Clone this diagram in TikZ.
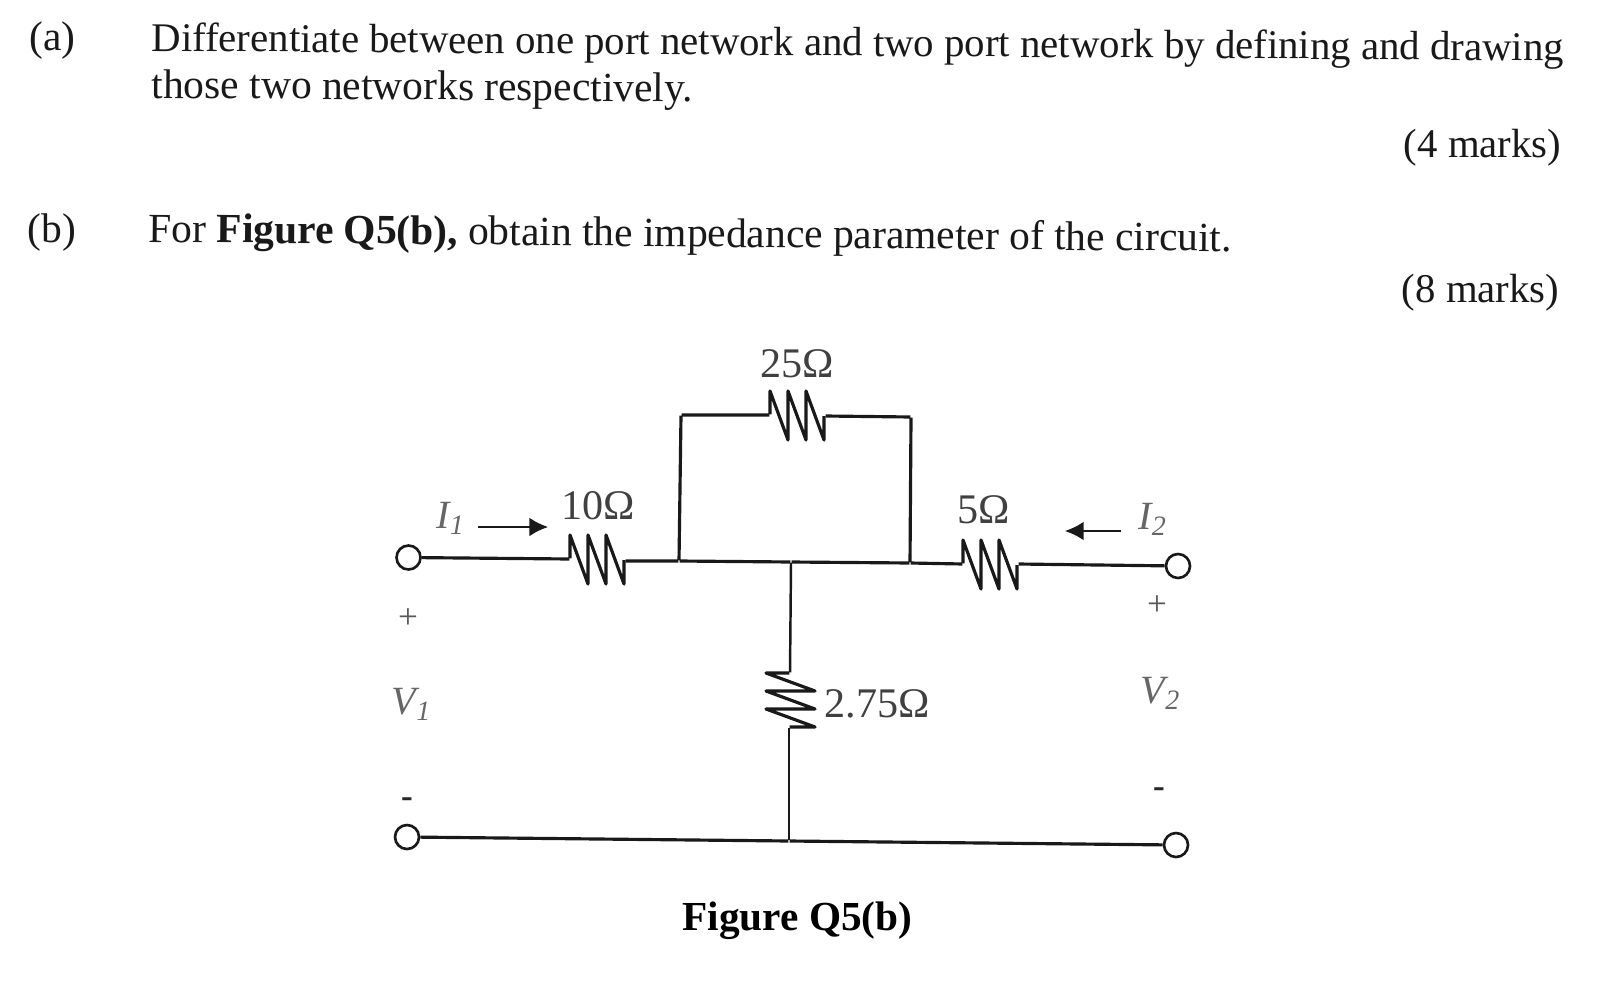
\documentclass[tikz,border=0pt]{standalone}
\usepackage{fontspec}
\setmainfont{Liberation Serif}
\usetikzlibrary{arrows.meta}
\tikzset{
  wire/.style={line width=0.9pt,black!90,line join=round},
  thin wire/.style={line width=0.7pt,black!90},
  term/.style={circle,draw,line width=0.75pt,black!90,fill=white,minimum size=0.24cm,inner sep=0pt},
  joint/.style={inner sep=0pt,minimum size=0pt},
  body/.style={anchor=base west,inner sep=0pt,font=\fontsize{11.8}{14}\selectfont,text=black!90},
  val/.style={inner sep=0pt,font=\fontsize{12}{14}\selectfont,text=black!75},
  sym/.style={inner sep=0pt,font=\fontsize{11.4}{13}\selectfont\itshape,text=black!60},
  sign/.style={inner sep=0pt,font=\fontsize{10}{12}\selectfont,text=black!65},
  zigh/.style={insert path={-- ++(0,.24) -- ++(.18,-.49) -- ++(0,.49) -- ++(.18,-.49) -- ++(0,.49) -- ++(.18,-.49) -- ++(0,.24)}},
  curarrow/.style={line width=0.8pt,black!90,-{Latex[length=0.19cm,width=0.19cm]}}
}
\begin{document}
\begin{tikzpicture}
\useasboundingbox (0,0) rectangle (16,9.98);
% question text
\draw (0.29,9.47) node[body] (qa) {(a)};
\draw (1.51,9.47) node[body,rotate=-0.4,font=\fontsize{11.6}{14}\selectfont] (la) {Differentiate between one port network and two port network by defining and drawing};
\draw (1.51,9.00) node[body,rotate=-0.4] (lb) {those two networks respectively.};
\draw (15.62,8.40) node[body,anchor=base east,font=\fontsize{11.6}{14}\selectfont] (ma) {(4 marks)};
\draw (0.27,7.56) node[body] (qb) {(b)};
\draw (1.48,7.56) node[body,rotate=-0.5] (lc) {For \textbf{Figure Q5(b),} obtain the impedance parameter of the circuit.};
\draw (15.60,6.96) node[body,anchor=base east,font=\fontsize{11.6}{14}\selectfont] (mb) {(8 marks)};
% terminals
\draw (4.085,4.405) node[term] (tl) {};
\draw (11.78,4.32) node[term] (tr) {};
\draw (4.07,1.61) node[term] (bl) {};
\draw (11.76,1.53) node[term] (br) {};
% joints
\draw (5.70,4.39) node[joint] (aa) {};
\draw (6.25,4.37) node[joint] (ab) {};
\draw (6.79,4.37) node[joint] (ja) {};
\draw (7.91,4.36) node[joint] (jm) {};
\draw (9.10,4.35) node[joint] (jb) {};
\draw (9.63,4.34) node[joint] (ba) {};
\draw (10.18,4.34) node[joint] (bb) {};
\draw (6.81,5.83) node[joint] (ca) {};
\draw (7.70,5.83) node[joint] (cb) {};
\draw (8.25,5.82) node[joint] (cc) {};
\draw (9.11,5.81) node[joint] (cd) {};
\draw (7.90,3.25) node[joint] (da) {};
\draw (7.89,2.71) node[joint] (db) {};
\draw (7.89,1.57) node[joint] (jg) {};
% wires
\draw[wire] (tl) -- (aa);
\draw[wire] (aa) [zigh];
\draw[wire] (ab) -- (ja) -- (jm) -- (jb) -- (ba);
\draw[wire] (ba) [zigh];
\draw[wire] (bb) -- (tr);
\draw[wire] (ja) -- (ca) -- (cb);
\draw[wire] (cb) [zigh];
\draw[wire] (cc) -- (cd) -- (jb);
\draw[thin wire] (jm) -- (da);
\draw[wire] (da) -- ++(-.24,0) -- ++(.49,-.18) -- ++(-.49,0) -- ++(.49,-.18) -- ++(-.49,0) -- ++(.49,-.18) -- (db);
\draw[thin wire] (db) -- (jg);
\draw[wire] (bl) -- (jg) -- (br);
% values
\draw (7.97,6.34) node[val] (rc) {25Ω};
\draw (5.98,4.92) node[val] (ra) {10Ω};
\draw (9.84,4.88) node[val] (rb) {5Ω};
\draw (8.77,2.94) node[val] (rd) {2.75Ω};
% currents and voltages
\draw (4.51,4.80) node[sym] (ione) {I\textsubscript{1}};
\draw (11.53,4.79) node[sym] (itwo) {I\textsubscript{2}};
\draw (4.12,2.94) node[sym] (vone) {V\textsubscript{1}};
\draw (11.61,3.05) node[sym] (vtwo) {V\textsubscript{2}};
\draw (4.77,4.71) node[joint] (aone) {};
\draw (5.49,4.71) node[joint] (bone) {};
\draw (11.22,4.67) node[joint] (atwo) {};
\draw (10.64,4.67) node[joint] (btwo) {};
\draw[curarrow] (aone) -- (bone);
\draw[curarrow] (atwo) -- (btwo);
\draw (4.08,3.79) node[sign] (pl) {+};
\draw (11.57,3.92) node[sign] (pr) {+};
\draw (4.07,1.95) node[sign,font=\fontsize{10}{12}\selectfont\bfseries,text=black!85] (nl) {-};
\draw (11.59,2.05) node[sign,font=\fontsize{10}{12}\selectfont\bfseries,text=black!85] (nr) {-};
\draw (7.975,0.68) node[inner sep=0pt,anchor=base,font=\fontsize{11.75}{14}\selectfont\bfseries] (cap) {Figure Q5(b)};
\end{tikzpicture}
\end{document}
